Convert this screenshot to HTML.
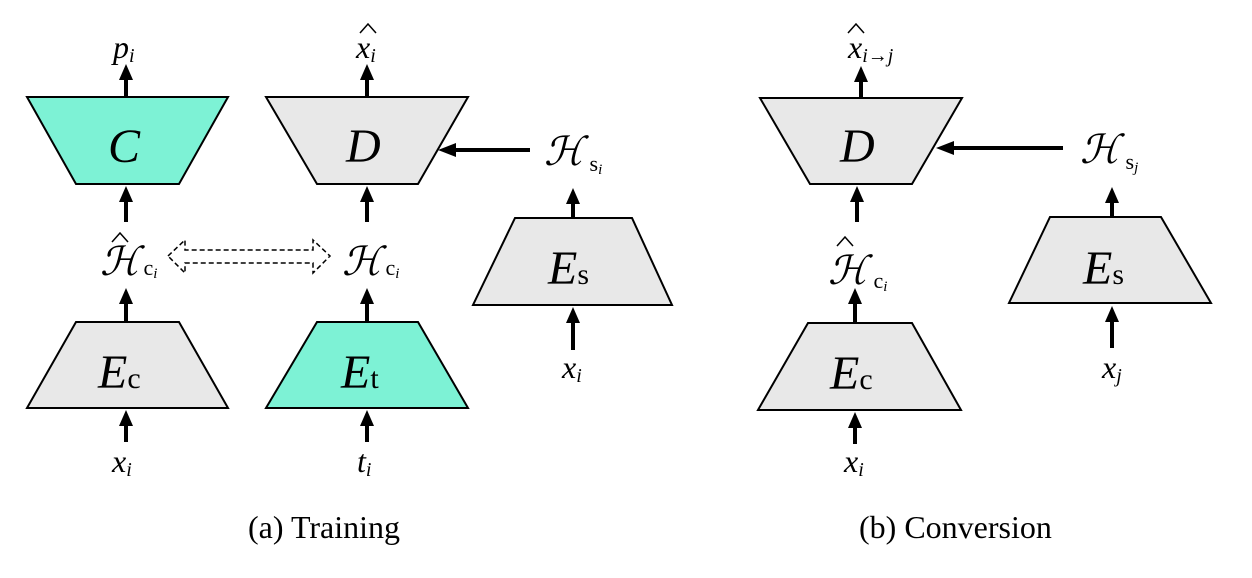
<!DOCTYPE html>
<html><head><meta charset="utf-8"><style>
html,body{margin:0;padding:0;background:#fff;}
svg{display:block;}
text{font-family:"Liberation Serif",serif;}
.l{font-style:italic;font-size:48px;}
.s{font-size:30px;font-style:normal;}
.v{font-style:italic;font-size:32px;}
.sub{font-size:20px;}
.H{font-family:"DejaVu Serif",serif;font-style:italic;font-size:40px;}
.hs{font-family:"Liberation Serif",serif;font-size:22px;font-style:normal;}
.hi{font-family:"Liberation Serif",serif;font-size:15px;font-style:italic;}
</style></head><body>
<svg width="1252" height="578" viewBox="0 0 1252 578" xmlns="http://www.w3.org/2000/svg">
<g stroke="#000" stroke-width="2">
<polygon points="27,97 228,97 179,184 76,184" fill="#7df2d5"/>
<polygon points="266,97 468,97 418,184 317,184" fill="#e8e8e8"/>
<polygon points="76,322 179,322 228,408 27,408" fill="#e8e8e8"/>
<polygon points="317,322 418,322 468,408 266,408" fill="#7df2d5"/>
<polygon points="515,218 632,218 672,305 473,305" fill="#e8e8e8"/>
<polygon points="760,98 962,98 912,184 810,184" fill="#e8e8e8"/>
<polygon points="1050,217 1161,217 1211,303 1009,303" fill="#e8e8e8"/>
<polygon points="808,323 912,323 961,410 758,410" fill="#e8e8e8"/>
</g>
<g stroke="#000" stroke-width="4" fill="none">
<line x1="126" y1="97" x2="126" y2="76"/>
<line x1="126" y1="222" x2="126" y2="198"/>
<line x1="126" y1="321" x2="126" y2="300"/>
<line x1="126" y1="442" x2="126" y2="422"/>
<line x1="367" y1="97" x2="367" y2="76"/>
<line x1="367" y1="222" x2="367" y2="198"/>
<line x1="367" y1="321" x2="367" y2="300"/>
<line x1="367" y1="442" x2="367" y2="422"/>
<line x1="530" y1="150" x2="452" y2="150"/>
<line x1="573" y1="218" x2="573" y2="200"/>
<line x1="573" y1="350" x2="573" y2="319"/>
<line x1="861" y1="98" x2="861" y2="78"/>
<line x1="857" y1="222" x2="857" y2="198"/>
<line x1="855" y1="323" x2="855" y2="300"/>
<line x1="855" y1="444" x2="855" y2="424"/>
<line x1="1063" y1="148" x2="950" y2="148"/>
<line x1="1112" y1="217" x2="1112" y2="199"/>
<line x1="1112" y1="348" x2="1112" y2="318"/>
</g>
<g fill="#000">
<path d="M119,80 L126,64 L133,80 Z"/>
<path d="M119,202 L126,186 L133,202 Z"/>
<path d="M119,304 L126,288 L133,304 Z"/>
<path d="M119,426 L126,410 L133,426 Z"/>
<path d="M360,80 L367,64 L374,80 Z"/>
<path d="M360,202 L367,186 L374,202 Z"/>
<path d="M360,304 L367,288 L374,304 Z"/>
<path d="M360,426 L367,410 L374,426 Z"/>
<path d="M456,143 L438,150 L456,157 Z"/>
<path d="M566,204 L573,188 L580,204 Z"/>
<path d="M566,323 L573,307 L580,323 Z"/>
<path d="M854,82 L861,66 L868,82 Z"/>
<path d="M850,202 L857,186 L864,202 Z"/>
<path d="M848,304 L855,288 L862,304 Z"/>
<path d="M848,428 L855,412 L862,428 Z"/>
<path d="M954,141 L936,148 L954,155 Z"/>
<path d="M1105,203 L1112,187 L1119,203 Z"/>
<path d="M1105,322 L1112,306 L1119,322 Z"/>
</g>
<path d="M168,256 L185,240 L185,250 L313,250 L313,240 L330,256 L313,273 L313,263 L185,263 L185,273 Z" fill="#fff" stroke="#000" stroke-width="1.5" stroke-dasharray="5,3"/>
<!-- hats -->
<g stroke="#000" stroke-width="1.5" fill="none">
<path d="M360,33 L368,24 L376,33"/>
<path d="M848,33 L856,24 L864,33"/>
<path d="M112,242 L120,233 L128,242"/>
<path d="M837,246 L845,237 L853,246"/>
</g>
<text class="l" x="108" y="162">C</text>
<text class="l" x="346" y="162">D</text>
<text class="l" x="840" y="162">D</text>
<text class="l" x="98" y="388">E<tspan class="s">c</tspan></text>
<text class="l" x="341" y="388">E<tspan class="s">t</tspan></text>
<text class="l" x="548" y="284">E<tspan class="s">s</tspan></text>
<text class="l" x="830" y="389">E<tspan class="s">c</tspan></text>
<text class="l" x="1083" y="284">E<tspan class="s">s</tspan></text>
<text class="v" x="113" y="58">p<tspan class="sub" dy="4">i</tspan></text>
<text class="v" x="356" y="58">x<tspan class="sub" dy="4">i</tspan></text>
<text class="v" x="848" y="58">x<tspan class="sub" dy="4">i→j</tspan></text>
<text class="v" x="112" y="472">x<tspan class="sub" dy="4">i</tspan></text>
<text class="v" x="357" y="472">t<tspan class="sub" dy="4">i</tspan></text>
<text class="v" x="562" y="378">x<tspan class="sub" dy="4">i</tspan></text>
<text class="v" x="844" y="472">x<tspan class="sub" dy="4">i</tspan></text>
<text class="v" x="1102" y="378">x<tspan class="sub" dy="4">j</tspan></text>
<text class="H" x="100" y="275">ℋ<tspan class="hs" dx="4" dy="0">c</tspan><tspan class="hi" dy="3">i</tspan></text>
<text class="H" x="342" y="275">ℋ<tspan class="hs" dx="4" dy="0">c</tspan><tspan class="hi" dy="3">i</tspan></text>
<text class="H" x="544" y="165">ℋ<tspan class="hs" dx="6" dy="6">s</tspan><tspan class="hi" dy="3">i</tspan></text>
<text class="H" x="1080" y="163">ℋ<tspan class="hs" dx="6" dy="6">s</tspan><tspan class="hi" dy="3">j</tspan></text>
<text class="H" x="828" y="284">ℋ<tspan class="hs" dx="6" dy="4">c</tspan><tspan class="hi" dy="3">i</tspan></text>
<text x="248" y="538" font-size="32">(a)  Training</text>
<text x="859" y="538" font-size="32">(b)  Conversion</text>
</svg>
</body></html>
